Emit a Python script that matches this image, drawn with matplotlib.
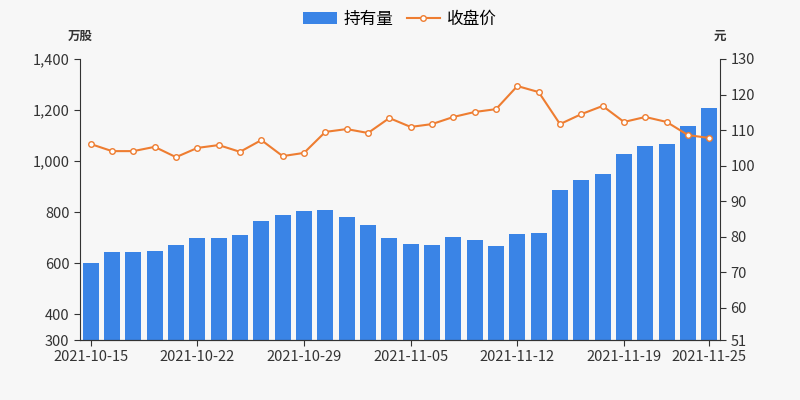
import matplotlib
matplotlib.use("Agg")
import matplotlib.pyplot as plt
import numpy as np

plt.rcParams['font.family'] = ['Noto Sans CJK SC', 'DejaVu Sans']

dates = ["2021-10-15","2021-10-18","2021-10-19","2021-10-20","2021-10-21","2021-10-22",
         "2021-10-25","2021-10-26","2021-10-27","2021-10-28","2021-10-29",
         "2021-11-01","2021-11-02","2021-11-03","2021-11-04","2021-11-05",
         "2021-11-08","2021-11-09","2021-11-10","2021-11-11","2021-11-12",
         "2021-11-15","2021-11-16","2021-11-17","2021-11-18","2021-11-19",
         "2021-11-22","2021-11-23","2021-11-24","2021-11-25"]
holdings = [600,645,645,650,672,700,700,711,766,789,805,809,781,750,700,676,672,703,691,668,
            715,719,887,926,950,1028,1059,1067,1138,1208]
close = [106.1,104.1,104.1,105.3,102.4,105.0,105.8,103.9,107.2,102.7,103.6,109.5,110.3,109.2,
         113.4,110.9,111.7,113.7,115.1,115.9,122.4,120.7,111.7,114.5,116.8,112.3,113.7,112.3,108.6,107.8]
tick_idx = [0,5,10,15,20,25,29]

bg = '#f7f7f7'
fig = plt.figure(figsize=(8,4), dpi=100, facecolor=bg)
ax = fig.add_axes([0.1, 0.15, 0.8, 0.7025], facecolor=bg)
x = np.arange(len(dates))
b = ax.bar(x, holdings, width=0.75, color='#3a84e6', label='持有量', zorder=2)
ax.set_ylim(300, 1400)
ax.set_yticks([300,400,600,800,1000,1200,1400])
ax.set_yticklabels(['300','400','600','800','1,000','1,200','1,400'])
ax.set_xlim(-0.5, len(dates)-0.5)
ax.set_xticks([x[i] for i in tick_idx])
ax.set_xticklabels([dates[i] for i in tick_idx])
ax2 = ax.twinx()
l, = ax2.plot(x, close, color='#ee7d31', lw=1.5, marker='o', ms=4, mfc='white', mec='#ee7d31', label='收盘价', zorder=3)
ax2.set_ylim(51, 130)
ax2.set_yticks([51,60,70,80,90,100,110,120,130])
for a in (ax, ax2):
    a.spines['top'].set_visible(False)
    for s in ('left','right','bottom'):
        a.spines[s].set_color('#333333')
    a.tick_params(colors='#333333', labelsize=10.5, length=4)
ax.spines['right'].set_visible(False)
ax2.spines['left'].set_visible(False)
fig.text(0.085, 0.9, '万股', fontsize=9, ha='left', weight='bold', color='#333333')
fig.text(0.9, 0.9, '元', fontsize=9, ha='center', weight='bold', color='#333333')
fig.legend([b, l], ['持有量', '收盘价'], loc='upper center', bbox_to_anchor=(0.5, 1.01), ncol=2,
           frameon=False, fontsize=12, handlelength=2, columnspacing=0.8, handletextpad=0.4)
fig.savefig('out.png', facecolor=bg)
